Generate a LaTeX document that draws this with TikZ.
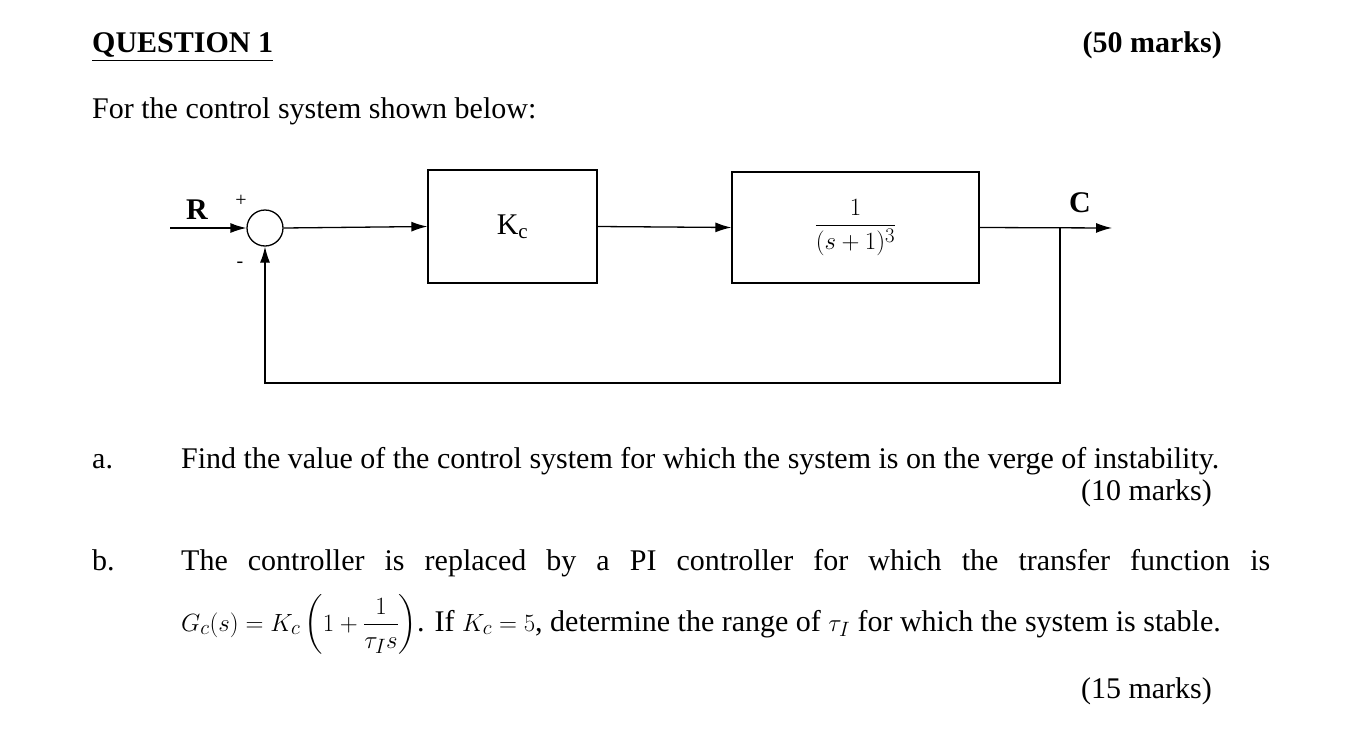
\documentclass[tikz,border=0pt]{standalone}
\usepackage{fontspec}
\setmainfont{Liberation Serif}
\usepackage{amsmath}
\usetikzlibrary{arrows.meta}
\begin{document}
\begin{tikzpicture}[x=1pt,y=-1pt,>={Latex[length=16pt,width=10pt]},font=\fontsize{30}{36}\selectfont,
  blk/.style={draw,line width=1.3pt,inner sep=0pt},
  ln/.style={line width=1.3pt}]
\useasboundingbox (0,0) rectangle (1348,736);
\node[anchor=base west,inner sep=0pt,font=\fontsize{30}{36}\selectfont\bfseries] (q) at (92,52) {\underline{QUESTION 1}};
\node[anchor=base east,inner sep=0pt,font=\fontsize{30}{36}\selectfont\bfseries] (m) at (1222,52) {(50 marks)};
\node[anchor=base west,inner sep=0pt] (intro) at (92,118) {For the control system shown below:};
\node[circle,draw,line width=1.3pt,minimum size=36pt,inner sep=0pt] (sum) at (265,228) {};
\node[blk,minimum width=169pt,minimum height=113pt] (b1) at (512.5,226.5) {K\textsubscript{c}};
\node[blk,minimum width=247pt,minimum height=111pt] (b2) at (855.5,227.5) {$\dfrac{1}{(s+1)^3}$};
\coordinate (in) at (170,228);
\coordinate (out) at (1112,228);
\coordinate (tap) at (1060,228);
\coordinate (fb1) at (1060,383);
\coordinate (fb2) at (265,383);
\node[font=\fontsize{30}{36}\selectfont\bfseries] (R) at (197,210) {R};
\node[font=\fontsize{30}{36}\selectfont\bfseries] (C) at (1080,203) {C};
\node[font=\fontsize{20}{24}\selectfont] (plus) at (241,201) {+};
\node[font=\fontsize{20}{24}\selectfont] (minus) at (240,265) {-};
\draw[ln,->] (in) -- (sum.west);
\draw[ln,->] (sum.east) -- (b1.west);
\draw[ln,->] (b1.east) -- (b2.west);
\draw[ln,->] (b2.east) -- (out);
\draw[ln,->] (tap) -- (fb1) -- (fb2) -- (sum.south);
\node[anchor=base west,inner sep=0pt] (a) at (92,468) {a.};
\node[anchor=base west,inner sep=0pt] (at) at (181,468) {Find the value of the control system for which the system is on the verge of instability.};
\node[anchor=base east,inner sep=0pt] (am) at (1212,500) {(10 marks)};
\node[anchor=base west,inner sep=0pt] (b) at (92,570) {b.};
\node[anchor=base west,inner sep=0pt] (bt) at (181,570) {\makebox[1089pt][s]{The controller is replaced by a PI controller for which the transfer function is}};
\node[anchor=base west,inner sep=0pt] (bf) at (181,631) {$G_c(s)=K_c\left(1+\dfrac{1}{\tau_I s}\right)$. If $K_c=5$, determine the range of $\tau_I$ for which the system is stable.};
\node[anchor=base east,inner sep=0pt] (bm) at (1212,698) {(15 marks)};
\end{tikzpicture}
\end{document}
